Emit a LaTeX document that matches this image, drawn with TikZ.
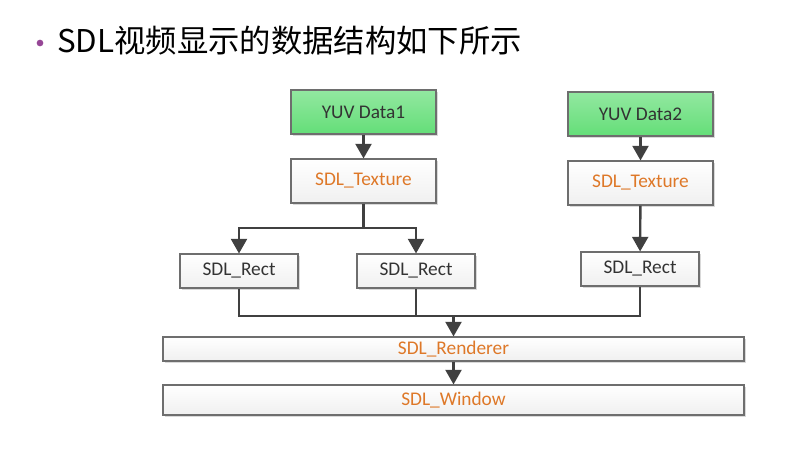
\documentclass[tikz,border=0pt]{standalone}
\usepackage{fontspec}
\setmainfont{Carlito}
\newfontfamily\cjk{Noto Sans CJK SC}
\usetikzlibrary{arrows.meta,shadows}
\definecolor{boxline}{RGB}{110,110,110}
\definecolor{orangetxt}{RGB}{222,120,40}
\definecolor{greenfill}{RGB}{100,222,120}
\definecolor{bulletc}{RGB}{150,70,150}
\begin{document}
\begin{tikzpicture}[x=0.75pt,y=-0.75pt,
  box/.style={draw=boxline,line width=0.8pt,top color=white,bottom color=gray!12,
    drop shadow={shadow xshift=1.2pt,shadow yshift=-1.2pt,opacity=0.3},
    font=\fontsize{14.5}{16}\selectfont,inner sep=0pt},
  yuv/.style={box,top color=greenfill!70,bottom color=greenfill,text=black!80,minimum width=108.75pt,minimum height=33pt},
  tex/.style={box,text=orangetxt,minimum width=108.75pt,minimum height=33pt},
  rect/.style={box,text=black!80,minimum width=88.5pt,minimum height=25.5pt},
  wide/.style={box,text=orangetxt,minimum width=435.75pt},
  arr/.style={draw=black!75,line width=1.8pt,-{Triangle[length=11pt,width=12pt]}},
  ln/.style={draw=black!75,line width=1.8pt}]
\useasboundingbox (0,0) rectangle (799,475);
\node[circle,fill=bulletc,inner sep=0pt,minimum size=5pt] (bul) at (40,43) {};
\node[anchor=west,inner sep=0pt,font=\cjk\fontsize{23.5}{26}\selectfont] (title) at (57,41) {SDL视频显示的数据结构如下所示};
\node[yuv] (y1) at (363.5,112) {YUV Data1};
\node[tex] (t1) at (363.5,181) {SDL\_Texture};
\node[yuv] (y2) at (640.5,114) {YUV Data2};
\node[tex] (t2) at (640.5,183) {SDL\_Texture};
\node[rect] (r1) at (239,271) {SDL\_Rect};
\node[rect] (r2) at (416,271) {SDL\_Rect};
\node[rect] (r3) at (640,269) {SDL\_Rect};
\node[wide,minimum height=18pt] (ren) at (453.5,349) {SDL\_Renderer};
\node[wide,minimum height=22.5pt] (win) at (453.5,400) {SDL\_Window};
\coordinate (bj) at (363.5,228);
\coordinate (mj) at (453.5,316);
\draw[arr] (y1) -- (t1);
\draw[arr] (y2) -- (t2);
\draw[arr] (t2) -- (r3);
\draw[ln] (t1) -- (bj);
\draw[arr] (bj) -| (r1);
\draw[arr] (bj) -| (r2);
\draw[ln] (r1.south) |- (mj);
\draw[ln] (r2.south) |- (mj);
\draw[ln] (r3.south) |- (mj);
\draw[arr] (mj) -- (ren);
\draw[arr] (ren) -- (win);
\end{tikzpicture}
\end{document}
